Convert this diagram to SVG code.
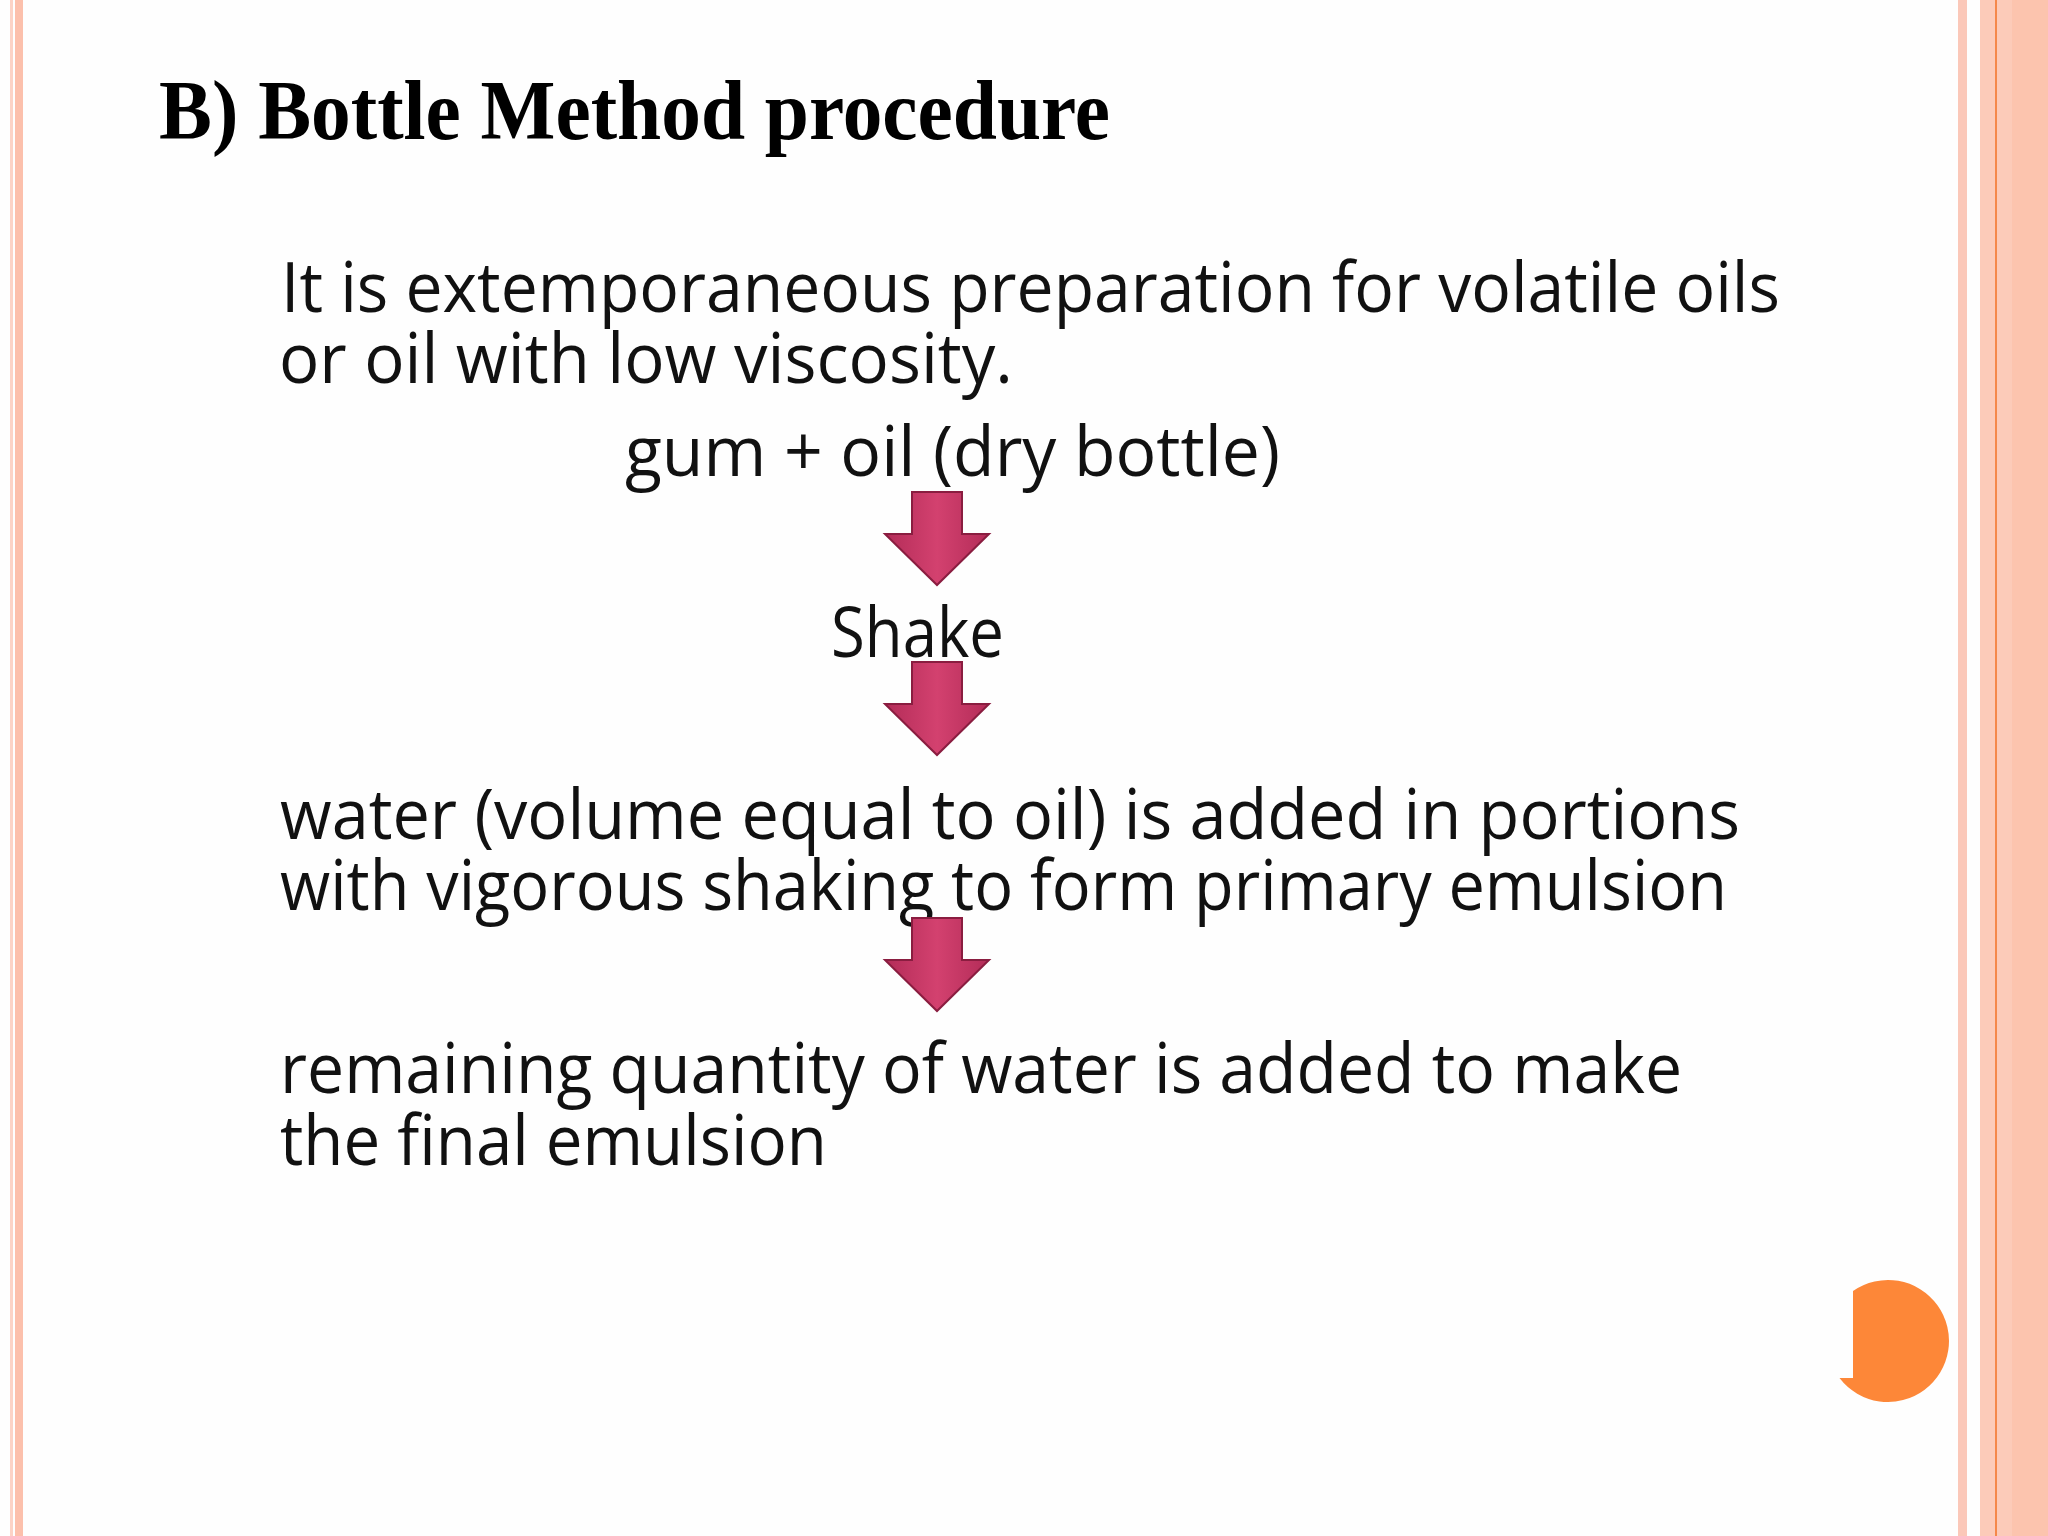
<svg xmlns="http://www.w3.org/2000/svg" width="2048" height="1536" viewBox="0 0 2048 1536">
<style>
.body{font-family:"Open Sans","DejaVu Sans",sans-serif;font-size:70px;fill:#111}
.title{font-family:"Liberation Serif","Times New Roman",serif;font-weight:bold;font-size:84px;fill:#000}
</style>
<defs>
<linearGradient id="ag" x1="0" y1="0" x2="1" y2="0">
<stop offset="0" stop-color="#b32c58"/>
<stop offset="0.5" stop-color="#d3416f"/>
<stop offset="1" stop-color="#b32c58"/>
</linearGradient>
<path id="arrow" d="M-25,0 L25,0 L25,42 L52,42 L0,93 L-52,42 L-25,42 Z" fill="url(#ag)" stroke="#8a1d40" stroke-width="2" stroke-linejoin="miter"/>
</defs>
<rect width="2048" height="1536" fill="#fefefe"/>
<g id="borders">
<rect x="10" y="0" width="3" height="1536" fill="#fcd3c6"/>
<rect x="15" y="0" width="8" height="1536" fill="#fcc0ac"/>
<rect x="1958" y="0" width="9" height="1536" fill="#fbc8b9"/>
<rect x="1980" y="0" width="68" height="1536" fill="#fccbb9"/>
<rect x="2012" y="0" width="36" height="1536" fill="#fcc4ae"/>
<rect x="1995" y="0" width="2" height="1536" fill="#f5884a"/>
</g>
<path id="dot" d="M1853,1291 A61,61 0 1,1 1839.5,1378 L1853,1378 Z" fill="#fd8738"/>
<g id="title"><text class="title" x="159" y="139" textLength="951" lengthAdjust="spacingAndGlyphs">B) Bottle Method procedure</text></g>
<g id="intro">
<text class="body" x="281" y="312" textLength="1499" lengthAdjust="spacingAndGlyphs">It is extemporaneous preparation for volatile oils</text>
<text class="body" x="279" y="383" textLength="734" lengthAdjust="spacingAndGlyphs">or oil with low viscosity.</text>
</g>
<g id="step1"><text class="body" x="625" y="476" textLength="655" lengthAdjust="spacingAndGlyphs">gum + oil (dry bottle)</text></g>
<g id="step2"><text class="body" x="831" y="657" textLength="173" lengthAdjust="spacingAndGlyphs">Shake</text></g>
<g id="step3">
<text class="body" x="280" y="839" textLength="1460" lengthAdjust="spacingAndGlyphs">water (volume equal to oil) is added in portions</text>
<text class="body" x="280" y="910" textLength="1447" lengthAdjust="spacingAndGlyphs">with vigorous shaking to form primary emulsion</text>
</g>
<g id="step4">
<text class="body" x="280" y="1093" textLength="1402" lengthAdjust="spacingAndGlyphs">remaining quantity of water is added to make</text>
<text class="body" x="280" y="1165" textLength="547" lengthAdjust="spacingAndGlyphs">the final emulsion</text>
</g>
<g id="connectors">
<use href="#arrow" x="937" y="492"/>
<use href="#arrow" x="937" y="662"/>
<use href="#arrow" x="937" y="918"/>
</g>
</svg>
